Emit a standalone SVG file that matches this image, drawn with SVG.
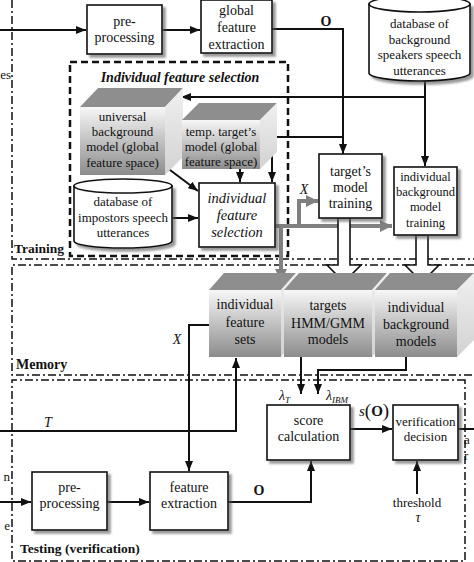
<svg xmlns="http://www.w3.org/2000/svg" width="474" height="562" viewBox="0 0 474 562">
<defs>
<style>
.t{font-family:"Liberation Serif","Times New Roman",serif;font-size:14px;fill:#111;text-anchor:middle}
.l{text-anchor:start}
.e{text-anchor:end}
.s13{font-size:13px}
.s12{font-size:12.5px}
.b{font-weight:bold}
.i{font-style:italic}
.box{fill:#fff;stroke:#111;stroke-width:1.6;filter:url(#sh)}
.ln{fill:none;stroke:#111;stroke-width:2}
.gl{fill:none;stroke:#808080;stroke-width:4}
.fr{fill:none;stroke:#111;stroke-width:1.5;stroke-dasharray:8 3 2 3}
.top{fill:#8e8e8e}
.side{fill:url(#sideg)}
.hol{fill:#fff;stroke:#111;stroke-width:1.6}
</style>
<filter id="sh" x="-10%" y="-10%" width="130%" height="130%">
<feDropShadow dx="3" dy="3" stdDeviation="1.3" flood-color="#555" flood-opacity="0.6"/>
</filter>
<linearGradient id="front" x1="0" y1="0" x2="0" y2="1"><stop offset="0" stop-color="#f7f7f7"/><stop offset="1" stop-color="#8c8c8c"/></linearGradient>
<linearGradient id="sideg" x1="0" y1="0" x2="0" y2="1"><stop offset="0" stop-color="#f0f0f0"/><stop offset="1" stop-color="#d2d2d2"/></linearGradient>
<marker id="a" viewBox="0 0 10 8" refX="10" refY="4" markerWidth="10" markerHeight="8" markerUnits="userSpaceOnUse" orient="auto"><path d="M0,0 L10,4 L0,8 z" fill="#111"/></marker>
<marker id="g" viewBox="0 0 12 12" refX="12" refY="6" markerWidth="12" markerHeight="12" markerUnits="userSpaceOnUse" orient="auto"><path d="M0,0 L12,6 L0,12 z" fill="#808080"/></marker>
</defs>
<rect x="0" y="0" width="474" height="562" fill="#fff"/>

<g id="frames">
<path class="fr" d="M12,0 V259 H474"/>
<path class="fr" d="M474,265 H12 V375 H474"/>
<path class="fr" d="M465,380 H12 V561 H465 Z"/>
<rect x="70" y="62" width="218" height="194" fill="none" stroke="#111" stroke-width="2.5" stroke-dasharray="7 4"/>
<text class="t b" x="14" y="253" style="text-anchor:start;font-size:13.5px">Training</text>
<text class="t b l" x="16" y="369">Memory</text>
<text class="t b l" x="20" y="553" style="font-size:13.5px">Testing (verification)</text>
<text class="t b i" x="180" y="82">Individual feature selection</text>
</g>

<g id="connectors">
<path class="ln" d="M0,30 H86" marker-end="url(#a)"/>
<path class="ln" d="M162,30 H200" marker-end="url(#a)"/>
<path class="ln" d="M272,29 H343 V154" marker-end="url(#a)"/>
<path class="ln" d="M343,137 H263" marker-end="url(#a)"/>
<path class="ln" d="M272,137 V182" marker-end="url(#a)"/>
<path class="ln" d="M425,81 V166" marker-end="url(#a)"/>
<path class="ln" d="M425,97 H181" marker-end="url(#a)"/>
<path class="ln" d="M240,169 V182" marker-end="url(#a)"/>
<path class="ln" d="M166,167 L198,191" marker-end="url(#a)"/>
<path class="ln" d="M173,218 H198" marker-end="url(#a)"/>
<path class="gl" d="M275,226 H392" marker-end="url(#g)"/>
<path class="gl" d="M281,226 V281" marker-end="url(#g)"/>
<path class="gl" d="M299,226 V201 H318" marker-end="url(#g)"/>
<polygon class="hol" points="338,218 350,218 350,265 361,265 344,282 327,265 338,265"/>
<polygon class="hol" points="416,235 428,235 428,265 439,265 422,282 405,265 416,265"/>
<path class="ln" d="M209,325 H189 V471" marker-end="url(#a)"/>
<path class="ln" d="M0,431 H236 V358" marker-end="url(#a)"/>
<path class="ln" d="M301,357 V394" marker-end="url(#a)"/>
<path class="ln" d="M406,357 V370 H318 V394" marker-end="url(#a)"/>
<path class="ln" d="M350,429 H392" marker-end="url(#a)"/>
<path class="ln" d="M458,429 H474"/>
<path class="ln" d="M417,494 V461" marker-end="url(#a)"/>
<path class="ln" d="M228,502 H311 V461" marker-end="url(#a)"/>
<path class="ln" d="M0,502 H31" marker-end="url(#a)"/>
<path class="ln" d="M107,502 H149" marker-end="url(#a)"/>
<text class="t b" x="326" y="26">O</text>
<text class="t i" x="304" y="194">X</text>
<text class="t i" x="177" y="344">X</text>
<text class="t i" x="48" y="427">T</text>
<text class="t i l" x="279" y="400">λ<tspan font-size="9" dy="3">T</tspan></text>
<text class="t i l" x="326" y="400">λ<tspan font-size="9" dy="3">IBM</tspan></text>
<text class="t l" x="359" y="416" style="font-size:15px"><tspan font-style="italic">s</tspan><tspan font-size="19" dy="1">(</tspan><tspan font-weight="bold" dy="-1">O</tspan><tspan font-size="19" dy="1">)</tspan></text>
<text class="t b" x="259" y="495">O</text>
<text class="t s13" x="417" y="507">threshold</text>
<text class="t i" x="418" y="522">τ</text>
<text class="t e s13" x="11" y="79">es</text>
<text class="t e s13" x="10" y="481">n</text>
<text class="t e s13" x="10" y="530">e</text>
<text class="t l s13" x="464" y="444">a</text>
<text class="t l s13" x="464" y="460">r</text>
</g>

<g id="preproc-train">
<rect class="box" x="87" y="5" width="75" height="49"/>
<text class="t" x="124.5" y="26">pre-</text>
<text class="t" x="124.5" y="42">processing</text>
</g>

<g id="global-extraction">
<rect class="box" x="201" y="0" width="71" height="53"/>
<text class="t" x="236.5" y="15">global</text>
<text class="t" x="236.5" y="32">feature</text>
<text class="t" x="236.5" y="49">extraction</text>
</g>

<g id="db-background">
<path d="M369,4 V73 A50.5,8 0 0 0 470,73 V4 Z" fill="#fff" stroke="#111" stroke-width="1.6" filter="url(#sh)"/>
<ellipse cx="419.5" cy="4" rx="50.5" ry="8" fill="#fff" stroke="#111" stroke-width="1.6"/>
<text class="t s13" x="419.5" y="28">database of</text>
<text class="t s13" x="419.5" y="44">background</text>
<text class="t s13" x="419.5" y="59">speakers speech</text>
<text class="t s13" x="419.5" y="75">utterances</text>
</g>

<g id="ubm">
<polygon class="top" points="80,107 98,88 183,88 165,107"/>
<polygon class="side" points="165,107 183,88 183,157 165,175"/>
<rect x="80" y="107" width="85" height="68" fill="url(#front)"/>
<text class="t s13" x="122.5" y="121">universal</text>
<text class="t s13" x="122.5" y="136">background</text>
<text class="t s13" x="122.5" y="151">model (global</text>
<text class="t s13" x="122.5" y="167">feature space)</text>
</g>

<g id="temp-target">
<polygon class="top" points="182,120 199,103 277,103 260,120"/>
<polygon class="side" points="260,120 277,103 277,152 260,169"/>
<rect x="182" y="120" width="78" height="49" fill="url(#front)"/>
<text class="t s13" x="221" y="136">temp. target’s</text>
<text class="t s13" x="221" y="151">model (global</text>
<text class="t s13" x="221" y="166">feature space)</text>
</g>

<g id="db-impostors">
<path d="M74,186 V241 A49,7 0 0 0 172,241 V186 Z" fill="#fff" stroke="#111" stroke-width="1.6" filter="url(#sh)"/>
<ellipse cx="123" cy="186" rx="49" ry="7" fill="#fff" stroke="#111" stroke-width="1.6"/>
<text class="t s13" x="123" y="206">database of</text>
<text class="t s13" x="123" y="222">impostors speech</text>
<text class="t s13" x="123" y="237">utterances</text>
</g>

<g id="feature-selection">
<rect class="box" x="199" y="183" width="76" height="64"/>
<text class="t i" x="237" y="203" style="font-size:14.5px">individual</text>
<text class="t i" x="237" y="220" style="font-size:14.5px">feature</text>
<text class="t i" x="237" y="237" style="font-size:14.5px">selection</text>
</g>

<g id="target-training">
<rect class="box" x="319" y="154" width="63" height="64"/>
<text class="t" x="350.5" y="176">target’s</text>
<text class="t" x="350.5" y="192">model</text>
<text class="t" x="350.5" y="208">training</text>
</g>

<g id="background-training">
<rect class="box" x="394" y="167" width="63" height="68"/>
<text class="t s12" x="425.5" y="181">individual</text>
<text class="t s12" x="425.5" y="196">background</text>
<text class="t s12" x="425.5" y="211">model</text>
<text class="t s12" x="425.5" y="227">training</text>
</g>

<g id="feature-sets">
<polygon class="top" points="209,290 224,273 296,273 281,290"/>
<polygon class="side" points="281,290 296,273 296,340 281,357"/>
<rect x="209" y="290" width="72" height="67" fill="url(#front)"/>
<text class="t" x="245" y="309">individual</text>
<text class="t" x="245" y="327">feature</text>
<text class="t" x="245" y="344">sets</text>
</g>

<g id="target-models">
<polygon class="top" points="284,290 299,273 387,273 372,290"/>
<polygon class="side" points="372,290 387,273 387,340 372,357"/>
<rect x="284" y="290" width="88" height="67" fill="url(#front)"/>
<text class="t" x="328" y="310">targets</text>
<text class="t" x="328" y="328">HMM/GMM</text>
<text class="t" x="328" y="344">models</text>
</g>

<g id="background-models">
<polygon class="top" points="375,290 390,273 474,273 457,290"/>
<polygon class="side" points="457,290 474,273 474,340 457,357"/>
<rect x="375" y="290" width="82" height="67" fill="url(#front)"/>
<text class="t" x="416" y="312">individual</text>
<text class="t" x="416" y="329">background</text>
<text class="t" x="416" y="346">models</text>
</g>

<g id="score-calculation">
<rect class="box" x="267" y="405" width="83" height="55"/>
<text class="t" x="308.5" y="425">score</text>
<text class="t" x="308.5" y="441">calculation</text>
</g>

<g id="verification-decision">
<rect class="box" x="393" y="405" width="65" height="55"/>
<text class="t s13" x="425.5" y="426">verification</text>
<text class="t s13" x="425.5" y="441">decision</text>
</g>

<g id="preproc-test">
<rect class="box" x="32" y="472" width="75" height="58"/>
<text class="t" x="69.5" y="492">pre-</text>
<text class="t" x="69.5" y="508">processing</text>
</g>

<g id="feature-extraction">
<rect class="box" x="150" y="472" width="78" height="58"/>
<text class="t" x="189" y="492">feature</text>
<text class="t" x="189" y="508">extraction</text>
</g>
</svg>
